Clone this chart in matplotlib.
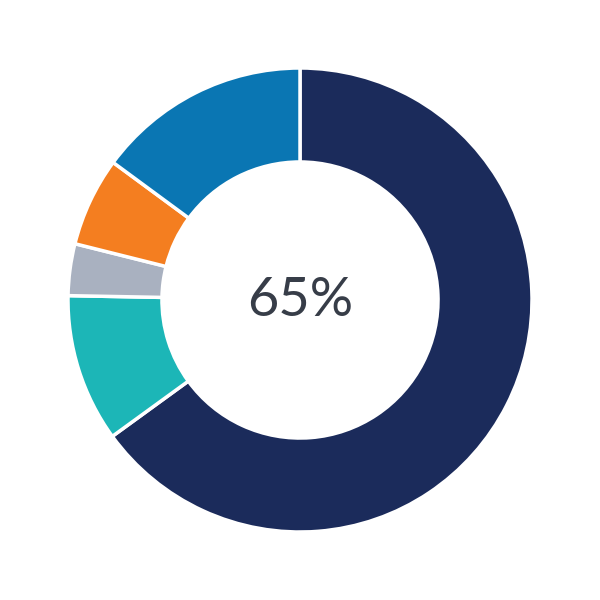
import matplotlib
matplotlib.use("Agg")
import matplotlib.pyplot as plt

labels = ["Navy", "Teal", "Gray", "Orange", "Blue"]
values = [65.0, 10.3, 3.6, 6.2, 14.9]
colors = ["#1b2b5b", "#1cb6b7", "#a9b1c0", "#f47e20", "#0a76b3"]
center_label = "65%"

fig = plt.figure(figsize=(6, 6), dpi=100)
ax = fig.add_axes([0, 0, 1, 1])
ax.pie(values, colors=colors, startangle=90, counterclock=False, radius=1.0,
       wedgeprops=dict(width=0.405, edgecolor="white", linewidth=2.5))
lim = 300 / 232
ax.set_xlim(-lim, lim)
ax.set_ylim(-lim, lim)
ax.set_aspect("equal")
ax.axis("off")
ax.text(0, 0, center_label, ha="center", va="center", fontsize=39,
        family="Lato", fontweight="normal", color="#373d48")
fig.savefig("out.png", dpi=100, facecolor="white")
